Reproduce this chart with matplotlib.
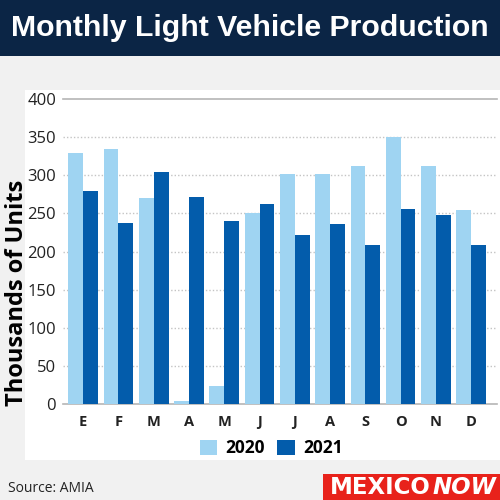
import matplotlib.pyplot as plt
import matplotlib.patches as patches
import numpy as np

months = ['E', 'F', 'M', 'A', 'M', 'J', 'J', 'A', 'S', 'O', 'N', 'D']
prod_2020 = [329, 335, 270, 4, 24, 250, 302, 302, 312, 350, 312, 254]
prod_2021 = [279, 237, 304, 271, 240, 262, 222, 236, 209, 256, 248, 209]
yticks = [0, 50, 100, 150, 200, 250, 300, 350, 400]

light = '#9fd4f2'
dark = '#035cab'
navy = '#0b2545'

plt.rcParams['font.family'] = ['Open Sans', 'DejaVu Sans']

fig = plt.figure(figsize=(5, 5), dpi=100)
fig.patch.set_facecolor('#f1f1f1')

# white panel behind the chart
fig.patches.append(patches.Rectangle((0.05, 0.08), 0.95, 0.74, transform=fig.transFigure,
                                     facecolor='white', edgecolor='none', zorder=-5))
# title bar
fig.patches.append(patches.Rectangle((0, 0.888), 1, 0.112, transform=fig.transFigure,
                                     facecolor=navy, edgecolor='none', zorder=1))
fig.text(0.5, 0.944, 'Monthly Light Vehicle Production', color='white', fontsize=21.8,
         fontweight='bold', ha='center', va='center', family='Liberation Sans', zorder=2)

ax = fig.add_axes([0.126, 0.192, 0.868, 0.610])
ax.set_facecolor('none')

x = np.arange(len(months))
w = 0.42
ax.bar(x - w / 2, prod_2020, w, color=light, label='2020', zorder=3)
ax.bar(x + w / 2, prod_2021, w, color=dark, label='2021', zorder=3)

for t in yticks:
    if t in (0, 400):
        ax.axhline(t, color='#b5b5b5', lw=1.2, zorder=2, clip_on=False)
    else:
        ax.axhline(t, color='#c4c4c4', lw=1.0, ls=(0, (1, 1.5)), zorder=1)

ax.set_ylim(0, 400)
ax.set_xlim(-0.57, 11.73)
ax.set_yticks(yticks)
ax.set_xticks(x)
ax.set_xticklabels(months, fontweight='bold', fontsize=10.5)
ax.tick_params(axis='y', length=0, pad=5, labelsize=12, colors='#222222')
ax.tick_params(axis='x', length=0, pad=8, colors='#222222')
for s in ax.spines.values():
    s.set_visible(False)

fig.text(0.034, 0.414, 'Thousands of Units', rotation=90, fontsize=17, fontweight='bold',
         ha='center', va='center', color='black')

leg = ax.legend(loc='upper center', bbox_to_anchor=(0.48, -0.065), ncol=2, frameon=False,
                fontsize=12.5, handlelength=1.0, handleheight=1.0, handletextpad=0.5,
                columnspacing=0.7)
for t in leg.get_texts():
    t.set_fontweight('bold')

fig.text(0.016, 0.022, 'Source: AMIA', fontsize=10, ha='left', va='center', color='#222222')

fig.patches.append(patches.Rectangle((0.646, 0.0), 0.354, 0.052, transform=fig.transFigure,
                                     facecolor='#e8221b', edgecolor='none', zorder=1))
fig.text(0.66, 0.024, 'MEXICO', color='white', fontsize=16.5, fontweight='bold',
         family='Liberation Sans Narrow', ha='left', va='center', zorder=2)
fig.text(0.866, 0.024, 'NOW', color='white', fontsize=16.5, fontweight='bold', style='italic',
         family='Liberation Sans Narrow', ha='left', va='center', zorder=2)

fig.savefig('out.png', dpi=100, facecolor=fig.get_facecolor())
